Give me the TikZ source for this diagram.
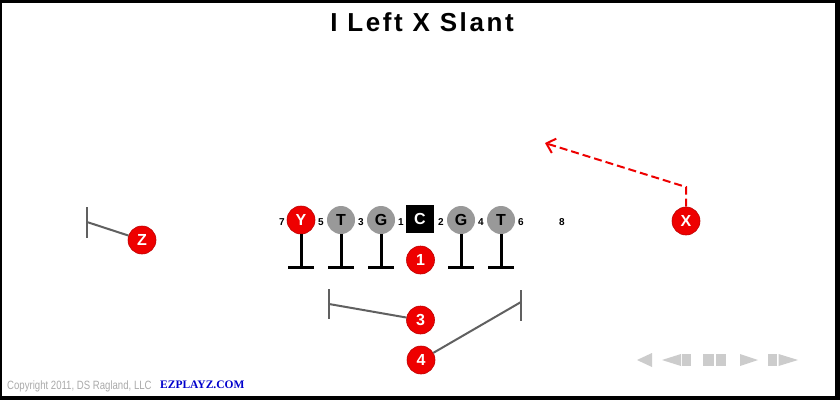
\documentclass[tikz,border=0pt]{standalone}
\usepackage{fontspec}
\setmainfont{Liberation Sans}
\newfontfamily\titlefont[LetterSpace=10]{Liberation Sans}
\newfontfamily\ezfont{Liberation Serif}
\usetikzlibrary{arrows.meta}
\definecolor{ezred}{RGB}{238,0,0}
\definecolor{ezgray}{RGB}{153,153,153}
\definecolor{routegray}{RGB}{96,96,96}
\definecolor{ctrlgray}{RGB}{204,204,204}
\definecolor{copygray}{RGB}{170,170,170}
\definecolor{ezblue}{RGB}{0,0,204}

\begin{document}
\begin{tikzpicture}[x=1pt,y=1pt]
\tikzstyle{every node}+=[inner sep=0pt]
\tikzstyle{redman}=[circle,minimum size=28pt,fill=ezred,draw=ezred!80!black,line width=0.6pt,text=white,font=\fontsize{16}{16}\selectfont\bfseries]
\tikzstyle{grayman}=[circle,minimum size=28pt,fill=ezgray,font=\fontsize{16}{16}\selectfont\bfseries]
\tikzstyle{snapper}=[rectangle,minimum size=28pt,fill=black,text=white,font=\fontsize{16}{16}\selectfont\bfseries]
\tikzstyle{gapnum}=[font=\fontsize{10}{10}\selectfont\bfseries]
\tikzstyle{block}=[line width=3pt]
\tikzstyle{route}=[routegray,line width=2pt]
\tikzstyle{slant}=[ezred,line width=2pt,dash pattern=on 8pt off 4pt,-{Straight Barb[length=8pt,width=15pt]}]
\tikzstyle{ctrl}=[fill=ctrlgray]
\fill [black] (0,0) rectangle (840,-400);
\fill [white] (2,-3) rectangle (835,-396);
\useasboundingbox (0,0) rectangle (840,-400);
\node [anchor=base] (title) at (422,-31) {\titlefont\fontsize{26}{26}\selectfont\bfseries I Left X Slant};
\node [redman] (y) at (301,-220) {Y};
\node [grayman] (lt) at (341,-220) {T};
\node [grayman] (lg) at (381,-220) {G};
\node [snapper] (c) at (420,-219) {C};
\node [grayman] (rg) at (461,-220) {G};
\node [grayman] (rt) at (501,-220) {T};
\node [redman] (one) at (420.5,-260) {1};
\node [redman] (three) at (420.5,-320) {3};
\node [redman] (four) at (421,-360) {4};
\node [redman] (z) at (142,-240) {Z};
\node [redman] (x) at (686,-221) {X};
\node [gapnum] (g7) at (282,-222) {7};
\node [gapnum] (g5) at (321,-222) {5};
\node [gapnum] (g3) at (361,-222) {3};
\node [gapnum] (g1) at (401,-222) {1};
\node [gapnum] (g2) at (441,-222) {2};
\node [gapnum] (g4) at (481,-222) {4};
\node [gapnum] (g6) at (521,-222) {6};
\node [gapnum] (g8) at (562,-222) {8};
\coordinate (yb) at (301,-267);
\draw [block] (y) -- (yb);
\draw [block] ([xshift=-13pt]yb) -- ([xshift=13pt]yb);
\coordinate (ltb) at (341,-267);
\draw [block] (lt) -- (ltb);
\draw [block] ([xshift=-13pt]ltb) -- ([xshift=13pt]ltb);
\coordinate (lgb) at (381,-267);
\draw [block] (lg) -- (lgb);
\draw [block] ([xshift=-13pt]lgb) -- ([xshift=13pt]lgb);
\coordinate (rgb) at (461,-267);
\draw [block] (rg) -- (rgb);
\draw [block] ([xshift=-13pt]rgb) -- ([xshift=13pt]rgb);
\coordinate (rtb) at (501,-267);
\draw [block] (rt) -- (rtb);
\draw [block] ([xshift=-13pt]rtb) -- ([xshift=13pt]rtb);
\coordinate (zbar) at (87,-222);
\draw [route] (z) -- (zbar);
\draw [route] ([yshift=15pt]zbar) -- ([yshift=-16pt]zbar);
\coordinate (threebar) at (329,-304);
\draw [route] (three) -- (threebar);
\draw [route] ([yshift=15pt]threebar) -- ([yshift=-15pt]threebar);
\coordinate (fourbar) at (521,-302);
\draw [route] (four) -- (fourbar);
\draw [route] ([yshift=12pt]fourbar) -- ([yshift=-19pt]fourbar);
\coordinate (xturn) at (686,-187);
\coordinate (xend) at (545,-143);
\draw [slant] (x) -- (xturn) -- (xend);
\fill [ctrl] (637,-360) -- (652,-353) -- (652,-367) -- cycle;
\fill [ctrl] (662,-360) -- (681,-354) -- (681,-366) -- cycle;
\fill [ctrl] (682,-354) rectangle (691,-366);
\fill [ctrl] (703,-354) rectangle (714,-366);
\fill [ctrl] (715.5,-354) rectangle (726,-366);
\fill [ctrl] (758,-360) -- (740,-354) -- (740,-366) -- cycle;
\fill [ctrl] (768,-354) rectangle (777,-366);
\fill [ctrl] (798,-360) -- (778.5,-354) -- (778.5,-366) -- cycle;
\node [anchor=base west,text=copygray] (copy) at (7,-389) {\fontsize{12}{12}\selectfont\scalebox{0.8}[1]{Copyright 2011, DS Ragland, LLC}};
\node [anchor=base west,text=ezblue] (ez) at (160,-388.5) {\ezfont\fontsize{11.5}{11.5}\selectfont\bfseries EZPLAYZ.COM};
\end{tikzpicture}
\end{document}
